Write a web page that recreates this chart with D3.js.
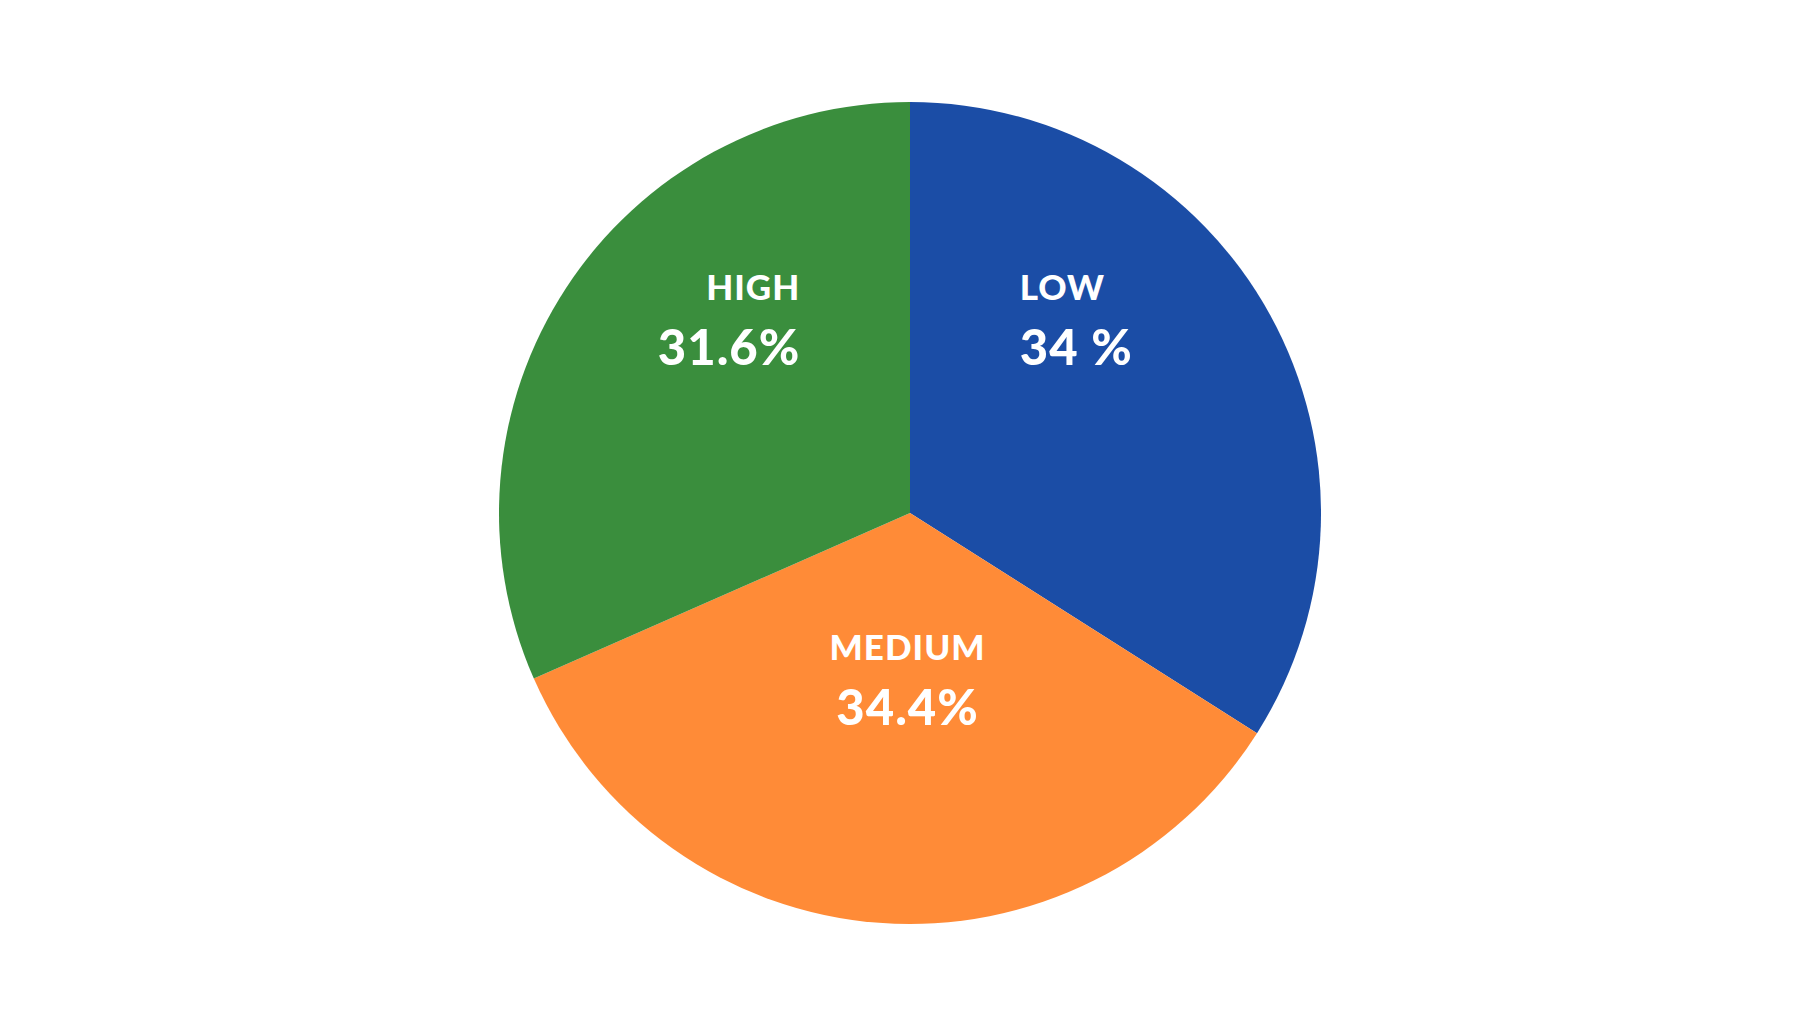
<!DOCTYPE html>
<html>
<head>
<meta charset="utf-8">
<script src="https://cdn.jsdelivr.net/npm/d3@7"></script>
<style>
  html, body { margin: 0; padding: 0; background: #ffffff; }
  svg { display: block; }
</style>
</head>
<body>
<svg id="chart" width="1820" height="1024"></svg>
<script>
const categories = ["LOW", "MEDIUM", "HIGH"];
const values = [34, 34.4, 31.6];
const valueLabels = ["34 %", "34.4%", "31.6%"];
const colors = ["#1b4da6", "#ff8b37", "#3a8e3d"];

const W = 1820, H = 1024;
const cx = 910, cy = 513, R = 411;

const svg = d3.select("#chart");
const g = svg.append("g").attr("transform", `translate(${cx},${cy})`);

const data = categories.map((c, i) => ({ cat: c, value: values[i], label: valueLabels[i], color: colors[i] }));

const pie = d3.pie().value(d => d.value).sort(null);
const arc = d3.arc().innerRadius(0).outerRadius(R);
const arcs = pie(data);

g.selectAll("path.slice")
  .data(arcs)
  .enter().append("path")
  .attr("class", "slice")
  .attr("d", arc)
  .attr("fill", d => d.data.color);

// label layout: upper slices sit in the upper band, anchored away from the vertical divider;
// lower slices are centred on their centroid direction.
function labelPos(d) {
  const mid = (d.startAngle + d.endAngle) / 2;
  const sx = Math.sin(mid), sy = -Math.cos(mid);
  if (sy < 0) {
    return { x: Math.sign(sx) * R * 0.267, y: -R * 0.518, anchor: sx >= 0 ? "start" : "end" };
  }
  return { x: sx * R * 0.08, y: R * 0.357, anchor: "middle" };
}

g.selectAll("g.lbl")
  .data(arcs)
  .enter().append("g")
  .attr("class", "lbl")
  .each(function(d) {
    const p = labelPos(d);
    const s = d3.select(this).attr("transform", `translate(${p.x},${p.y})`);
    s.append("text")
      .attr("text-anchor", p.anchor)
      .attr("font-family", "Lato, 'Open Sans', sans-serif")
      .attr("font-weight", 900)
      .attr("font-size", 35)
      .attr("letter-spacing", 1)
      .attr("fill", "#ffffff")
      .attr("y", 0)
      .text(d.data.cat);
    s.append("text")
      .attr("text-anchor", p.anchor)
      .attr("font-family", "Lato, 'Open Sans', sans-serif")
      .attr("font-weight", 900)
      .attr("font-size", 49)
      .attr("letter-spacing", 1)
      .attr("fill", "#ffffff")
      .attr("y", 65)
      .text(d.data.label);
  });
</script>
</body>
</html>
